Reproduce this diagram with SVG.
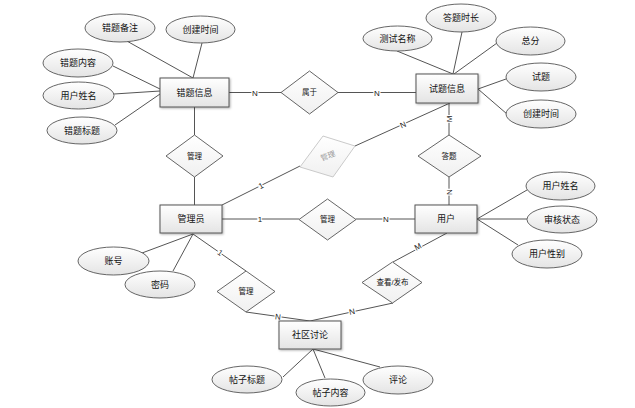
<svg xmlns="http://www.w3.org/2000/svg" width="635" height="408" viewBox="0 0 635 408">
<defs>
<linearGradient id="gE" x1="0" y1="0" x2="0" y2="1"><stop offset="0" stop-color="#ffffff"/><stop offset="1" stop-color="#e4e4e4"/></linearGradient>
<linearGradient id="gF" x1="0" y1="0" x2="0" y2="1"><stop offset="0" stop-color="#ffffff"/><stop offset="1" stop-color="#f0f0f0"/></linearGradient>
<filter id="sh" x="-20%" y="-20%" width="140%" height="140%"><feDropShadow dx="1" dy="1" stdDeviation="0.8" flood-color="#000" flood-opacity="0.3"/></filter>
</defs>
<style>
.ent{fill:url(#gE);stroke:#555;stroke-width:1;filter:url(#sh)}
.att{fill:url(#gE);stroke:#555;stroke-width:0.9}
.rel{fill:url(#gF);stroke:#555;stroke-width:0.9}
.fad{fill:url(#gF);stroke:#c4c4c4;stroke-width:0.9}
.ln{stroke:#555;stroke-width:1;fill:none}
text{font-family:"Liberation Sans","Noto Sans CJK SC",sans-serif;fill:#111;text-anchor:middle;dominant-baseline:central}
.t{font-size:9px}
.tr{font-size:7.5px}
.lb{font-size:8px;paint-order:stroke;stroke:#fff;stroke-width:2.5px;fill:#222}
</style>
<g id="connectors">
<path class="ln" d="M125,40 L193,78 M202,43 L193,78 M113,66 L160,89 M114,94 L160,91 M115,125 L160,94"/>
<path class="ln" d="M397,51 L453,74 M462,32 L453,74 M497,43 L454,74 M506,79 L478,89 M507,114 L478,89"/>
<path class="ln" d="M477,219 L527,190 M477,219 L527,219 M477,219 L518,245"/>
<path class="ln" d="M193,234 L142,253 M193,234 L173,271"/>
<path class="ln" d="M313,349 L283,377 M313,349 L325,378 M313,349 L380,367"/>
<path class="ln" d="M229,92.5 L281,92.5 M338,92.5 L416,92.5"/>
<path class="ln" d="M194.5,107 L194.5,135 M194.5,177 L194.5,205"/>
<path class="ln" d="M449,103 L449,135 M449,177 L449,205"/>
<path class="ln" d="M222,219 L299,219 M356,219 L415,219"/>
<path class="ln" d="M222,205 L300,166 M355,146 L450,103"/>
<path class="ln" d="M193,234 L246,271 M246,312 L310,321 M310,321 L393,303 M393,262 L447,233"/>
<text class="lb" x="255" y="93">N</text>
<text class="lb" x="377" y="93">N</text>
<text class="lb" transform="translate(449,119) rotate(-90)">M</text>
<text class="lb" transform="translate(449,192) rotate(-90)">N</text>
<text class="lb" x="260" y="219">1</text>
<text class="lb" x="386" y="219">N</text>
<text class="lb" transform="translate(261,186) rotate(-27)">1</text>
<text class="lb" transform="translate(403,125) rotate(-24)">N</text>
<text class="lb" transform="translate(220,253) rotate(35)">1</text>
<text class="lb" transform="translate(278,317) rotate(7)">N</text>
<text class="lb" transform="translate(352,312) rotate(-12)">N</text>
<text class="lb" transform="translate(418,247) rotate(-28)">M</text>
</g>
<g id="e-cuoti"><rect class="ent" x="160" y="78" width="69" height="29"/><text class="t" x="194.5" y="92.5">错题信息</text></g>
<g id="e-shiti"><rect class="ent" x="416" y="74" width="62" height="29"/><text class="t" x="447" y="88.5">试题信息</text></g>
<g id="e-admin"><rect class="ent" x="160" y="205" width="62" height="28"/><text class="t" x="191" y="219">管理员</text></g>
<g id="e-user"><rect class="ent" x="415" y="205" width="62" height="28"/><text class="t" x="446" y="219">用户</text></g>
<g id="e-forum"><rect class="ent" x="279" y="321" width="62" height="28"/><text class="t" x="310" y="335">社区讨论</text></g>
<g id="r-shuyu"><polygon class="rel" points="281,92.5 309.5,71 338,92.5 309.5,114"/><text class="tr" x="309.5" y="92.5">属于</text></g>
<g id="r-guanli1"><polygon class="rel" points="166,156 194.5,135 223,156 194.5,177"/><text class="tr" x="194.5" y="156">管理</text></g>
<g id="r-guanli2"><polygon class="rel" points="299,219.5 327.5,199 356,219.5 327.5,240"/><text class="tr" x="327.5" y="219.5">管理</text></g>
<g id="r-dati"><polygon class="rel" points="418,156 449,135 481,156 449,177"/><text class="tr" x="449" y="156">答题</text></g>
<g id="r-guanli-fade"><polygon class="fad" points="300,167 323,136 355,146 333,177"/><text class="tr" style="fill:#999" transform="translate(328,156) rotate(-20)">管理</text></g>
<g id="r-guanli3"><polygon class="rel" points="217,291.5 246,271 275,291.5 246,312"/><text class="tr" x="246" y="291.5">管理</text></g>
<g id="r-fabu"><polygon class="rel" points="362,282.5 392.5,262 422,282.5 392.5,303"/><text class="tr" x="392.5" y="282.5">查看/发布</text></g>
<g id="a-beizhu"><ellipse class="att" cx="120" cy="28" rx="35" ry="14"/><text class="t" x="120" y="28">错题备注</text></g>
<g id="a-time1"><ellipse class="att" cx="200.5" cy="29.5" rx="34.5" ry="13.5"/><text class="t" x="200.5" y="29.5">创建时间</text></g>
<g id="a-neirong"><ellipse class="att" cx="78" cy="63" rx="35" ry="14"/><text class="t" x="78" y="63">错题内容</text></g>
<g id="a-name1"><ellipse class="att" cx="78.5" cy="95.5" rx="35.5" ry="13.5"/><text class="t" x="78.5" y="95.5">用户姓名</text></g>
<g id="a-biaoti"><ellipse class="att" cx="82" cy="130.5" rx="35" ry="13.5"/><text class="t" x="82" y="130.5">错题标题</text></g>
<g id="a-ceshi"><ellipse class="att" cx="397.5" cy="38.5" rx="34.5" ry="12.5"/><text class="t" x="397.5" y="38.5">测试名称</text></g>
<g id="a-shichang"><ellipse class="att" cx="461" cy="18" rx="35" ry="14"/><text class="t" x="461" y="18">答题时长</text></g>
<g id="a-zongfen"><ellipse class="att" cx="530.5" cy="41" rx="34.5" ry="14"/><text class="t" x="530.5" y="41">总分</text></g>
<g id="a-shiti"><ellipse class="att" cx="541" cy="77" rx="35" ry="14"/><text class="t" x="541" y="77">试题</text></g>
<g id="a-time2"><ellipse class="att" cx="541" cy="114" rx="35" ry="14"/><text class="t" x="541" y="114">创建时间</text></g>
<g id="a-name2"><ellipse class="att" cx="560.5" cy="186" rx="34.5" ry="14"/><text class="t" x="560.5" y="186">用户姓名</text></g>
<g id="a-shenhe"><ellipse class="att" cx="562" cy="219.5" rx="35" ry="13.5"/><text class="t" x="562" y="219.5">审核状态</text></g>
<g id="a-xingbie"><ellipse class="att" cx="547" cy="254" rx="35" ry="14"/><text class="t" x="547" y="254">用户性别</text></g>
<g id="a-zhanghao"><ellipse class="att" cx="113.5" cy="261" rx="35.5" ry="14"/><text class="t" x="113.5" y="261">账号</text></g>
<g id="a-mima"><ellipse class="att" cx="160" cy="284.5" rx="35" ry="13.5"/><text class="t" x="160" y="284.5">密码</text></g>
<g id="a-tiezibt"><ellipse class="att" cx="247" cy="379.5" rx="35" ry="13.5"/><text class="t" x="247" y="379.5">帖子标题</text></g>
<g id="a-tienr"><ellipse class="att" cx="330.5" cy="392.5" rx="34.5" ry="13.5"/><text class="t" x="330.5" y="392.5">帖子内容</text></g>
<g id="a-pinglun"><ellipse class="att" cx="398" cy="380" rx="35" ry="14"/><text class="t" x="398" y="380">评论</text></g>
</svg>
